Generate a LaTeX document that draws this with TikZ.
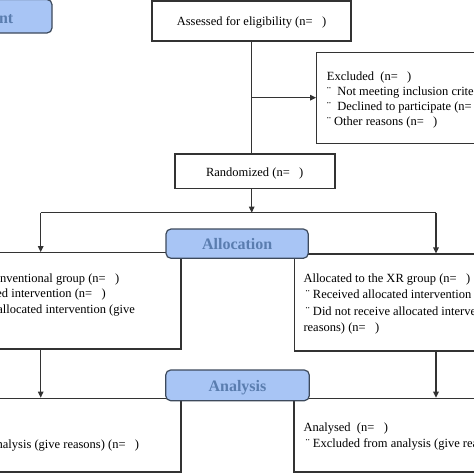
\documentclass[tikz,border=0pt]{standalone}
\usepackage{fontspec}
\setmainfont{Liberation Serif}
\usetikzlibrary{arrows.meta}
\definecolor{lbl}{HTML}{5A7DAF}
\definecolor{lblfill}{HTML}{A8C5F5}
\definecolor{lblline}{HTML}{3D4A5C}
\definecolor{ln}{HTML}{333333}
\tikzset{
  box/.style={draw=ln, line width=1.2pt, fill=white, rectangle, inner sep=0pt},
  stage/.style={draw=lblline, line width=1.2pt, fill=lblfill, rectangle, rounded corners=5pt, inner sep=0pt},
  stagetxt/.style={inner sep=0pt, text=lbl, font=\fontsize{16}{18}\selectfont\bfseries},
  txt/.style={inner sep=0pt, font=\fontsize{12.5}{15}\selectfont},
  conn/.style={draw=ln, line width=1.2pt},
  arr/.style={conn, -{Triangle[length=6pt,width=5.5pt]}}
}
\begin{document}
\begin{tikzpicture}[x=1pt,y=-1pt]
\useasboundingbox (0,0) rectangle (474,474);
\clip (0,0) rectangle (474,474);
% boxes
\node[box, minimum width=199pt, minimum height=40pt] (assess) at (251.5,21) {};
\node[box, minimum width=203.3pt, minimum height=91pt] (excl) at (418.35,97.8) {};
\node[box, minimum width=160pt, minimum height=34.3pt] (rand) at (255,171.15) {};
\node[box, minimum width=281pt, minimum height=96.3pt] (allocL) at (40.5,300.85) {};
\node[box, minimum width=225.7pt, minimum height=97pt] (allocR) at (407.15,302.5) {};
\node[box, minimum width=281pt, minimum height=73.7pt] (anaL) at (40.5,435.15) {};
\node[box, minimum width=226pt, minimum height=73.7pt] (anaR) at (407,435.15) {};
% connectors
\coordinate (c1) at (251.7,97.7);
\coordinate (cs) at (251.7,212.7);
\coordinate (cl) at (40.7,212.7);
\coordinate (cr) at (436,212.7);
\draw[conn] (assess.south -| c1) -- (rand.north -| c1);
\draw[arr] (c1) -- (c1 -| excl.west);
\draw[arr] (rand.south -| cs) -- (cs);
\draw[conn] (cl) -- (cr);
\draw[arr] (cl) -- (cl |- allocL.north);
\draw[arr] (cr) -- (cr |- allocR.north);
\draw[arr] (cl |- allocL.south) -- (cl |- anaL.north);
\draw[arr] (cr |- allocR.south) -- (cr |- anaR.north);
% stage labels
\node[stage, minimum width=142pt, minimum height=33.5pt] (enroll) at (-19,16.25) {};
\node[stage, minimum width=142.3pt, minimum height=29.3pt] (alloc) at (237.15,243.65) {};
\node[stage, minimum width=143.6pt, minimum height=30.7pt] (anal) at (237.5,385.35) {};
\node[stagetxt, anchor=base east] (tenroll) at (13.5,23.3) {Enrollment};
\node[stagetxt, anchor=base] (talloc) at (237.2,249.6) {Allocation};
\node[stagetxt, anchor=base] (tanal) at (237.5,391.3) {Analysis};
% texts
\node[txt, anchor=base] (tassess) at (251.5,25.7) {Assessed for eligibility (n=~~~)};
\node[txt, anchor=base west] (te1) at (326.7,80) {Excluded~~(n=~~~)};
\node[txt, anchor=base west] (te2) at (326.7,95.5) {¨~~Not meeting inclusion criteria (n=~~~)};
\node[txt, anchor=base west] (te3) at (326.7,110.3) {¨~~Declined to participate (n=~~~)};
\node[txt, anchor=base west] (te4) at (326.7,125.5) {¨~Other reasons (n=~~~)};
\node[txt, anchor=base] (trand) at (254.7,176.7) {Randomized (n=~~~)};
\node[txt, anchor=base east] (tl1) at (119.5,282) {Allocated to conventional group (n=~~~)};
\node[txt, anchor=base east] (tl2) at (106,297.5) {¨ Received allocated intervention (n=~~~)};
\node[txt, anchor=base east] (tl3) at (135,313) {¨ Did not receive allocated intervention (give};
\node[txt, anchor=base west] (tr1) at (303.3,282) {Allocated to the XR group (n=~~~)};
\node[txt, anchor=base west] (tr2) at (305.5,298.5) {¨ Received allocated intervention (n=~~~)};
\node[txt, anchor=base west] (tr3) at (305.5,315) {¨ Did not receive allocated intervention (give};
\node[txt, anchor=base west] (tr4) at (303.3,331) {reasons) (n=~~~)};
\node[txt, anchor=base east] (tb1) at (139.3,448.5) {¨ Excluded from analysis (give reasons) (n=~~~)};
\node[txt, anchor=base west] (tb2) at (303.3,431.3) {Analysed~~(n=~~~)};
\node[txt, anchor=base west] (tb3) at (305.5,447.3) {¨ Excluded from analysis (give reasons) (n=~~~)};
\end{tikzpicture}
\end{document}
